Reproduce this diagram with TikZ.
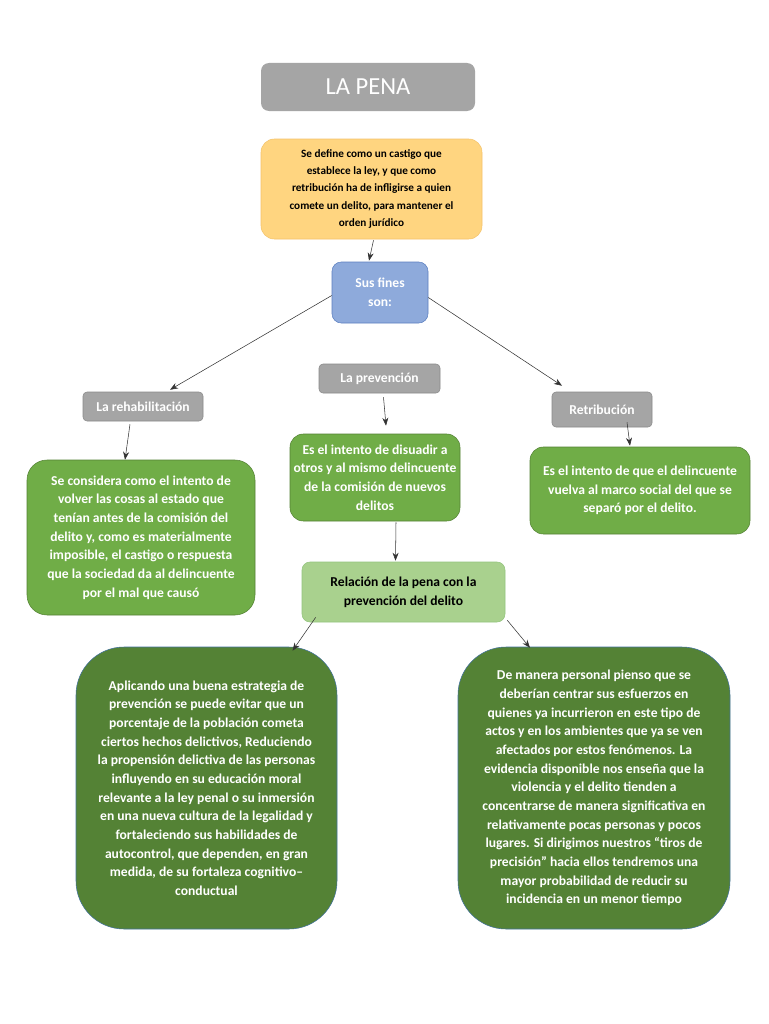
\documentclass[tikz,border=0pt]{standalone}
\usepackage{fontspec}
\setmainfont{Carlito}
\usetikzlibrary{calc,arrows.meta}
\definecolor{grisbox}{HTML}{A5A5A5}
\definecolor{grisline}{HTML}{8A8A8A}
\definecolor{naranja}{HTML}{FFD580}
\definecolor{naranjaline}{HTML}{F4C36C}
\definecolor{azul}{HTML}{8EAADB}
\definecolor{azulline}{HTML}{5B7FC0}
\definecolor{verde}{HTML}{70AD47}
\definecolor{verdeline}{HTML}{548235}
\definecolor{verdeclaro}{HTML}{A9D18E}
\definecolor{verdeclaroline}{HTML}{93C47D}
\definecolor{verdeosc}{HTML}{548235}
\definecolor{verdeoscline}{HTML}{41719C}
\begin{document}
\begin{tikzpicture}[x=0.75pt,y=-0.75pt]

    \tikzset{
      caja/.style={
        draw,
        align=center,
        inner sep=0pt,
        font=\bfseries\fontsize{10.2}{14}\selectfont,
      },
      etiqueta/.style={
        caja,
        fill=grisbox,
        draw=grisline,
        text=white,
        rounded corners=3pt,
        minimum height=21.75pt,
      },
      verdecaja/.style={
        caja,
        fill=verde,
        draw=verdeline,
        text=white,
        rounded corners=15pt,
      },
      flecha/.style={
        -{Stealth[length=6pt,width=4.5pt]},
        black!80,
      },
    }
    \fill[white] (0,0) rectangle (768,1024);

	\node[caja,fill=grisbox,draw=none,text=white,rounded corners=6pt,minimum width=160.5pt,minimum height=36pt,font=\fontsize{18.4}{20}\selectfont] (titulo) at (368,87) {LA PENA};
	\node[caja,fill=naranja,draw=naranjaline,rounded corners=10pt,minimum width=165.75pt,minimum height=75pt,font=\bfseries\fontsize{8.4}{13}\selectfont] (defin) at (371.5,189) {Se define como un castigo que\\establece la ley, y que como\\retribución ha de infligirse a quien\\comete un delito, para mantener el\\orden jurídico};
	\node[caja,fill=azul,draw=azulline,text=white,rounded corners=7pt,minimum width=72pt,minimum height=45.75pt] (fines) at (380,292.5) {Sus fines\\son:};

	\node[etiqueta,minimum width=90pt] (rehab) at (143,406.5) {La rehabilitación};
	\node[etiqueta,minimum width=90.75pt] (preven) at (379.5,378.5) {La prevención};
	\node[etiqueta,minimum width=75pt,minimum height=26.25pt] (retrib) at (602,409.5) {Retribución};

	\node[verdecaja,minimum width=171pt,minimum height=116.25pt] (rehabtxt) at (141,537.5) {Se considera como el intento de\\volver las cosas al estado que\\tenían antes de la comisión del\\delito y, como es materialmente\\imposible, el castigo o respuesta\\que la sociedad da al delincuente\\por el mal que causó};
	\node[verdecaja,rounded corners=10pt,minimum width=127.5pt,minimum height=65.25pt] (preventxt) at (375,477.5) {Es el intento de disuadir a\\otros y al mismo delincuente\\de la comisión de nuevos\\delitos};
	\node[verdecaja,rounded corners=10pt,minimum width=165pt,minimum height=65.25pt] (retribtxt) at (640,490.5) {Es el intento de que el delincuente\\vuelva al marco social del que se\\separó por el delito.};

	\node[caja,fill=verdeclaro,draw=verdeclaroline,rounded corners=6pt,minimum width=152.25pt,minimum height=45pt] (relacion) at (403.5,592) {Relación de la pena con la\\prevención del delito};

	\node[verdecaja,fill=verdeosc,draw=verdeoscline,rounded corners=36pt,minimum width=195.75pt,minimum height=211.5pt] (aplica) at (206.5,788) {Aplicando una buena estrategia de\\prevención se puede evitar que un\\porcentaje de la población cometa\\ciertos hechos delictivos, Reduciendo\\la propensión delictiva de las personas\\influyendo en su educación moral\\relevante a la ley penal o su inmersión\\en una nueva cultura de la legalidad y\\fortaleciendo sus habilidades de\\autocontrol, que dependen, en gran\\medida, de su fortaleza cognitivo–\\conductual};
	\node[verdecaja,fill=verdeosc,draw=verdeoscline,rounded corners=36pt,minimum width=204pt,minimum height=211.5pt] (personal) at (594,788) {De manera personal pienso que se\\deberían centrar sus esfuerzos en\\quienes ya incurrieron en este tipo de\\actos y en los ambientes que ya se ven\\afectados por estos fenómenos. La\\evidencia disponible nos enseña que la\\violencia y el delito tienden a\\concentrarse de manera significativa en\\relativamente pocas personas y pocos\\lugares. Si dirigimos nuestros “tiros de\\precisión” hacia ellos tendremos una\\mayor probabilidad de reducir su\\incidencia en un menor tiempo};

	\draw[flecha] ($(defin.south)+(2,1)$)--($(fines.north)+(-11,-1)$);
	\draw[flecha] ($(fines.west)+(0,3)$)--($(rehab.north)+(27,-2)$);
	\draw[flecha] ($(fines.east)+(0,5)$)--($(retrib.north)+(-40,-6)$);
	\draw[flecha] ($(rehab.south)+(-13,3)$)--($(rehabtxt.north)+(-16,0)$);
	\draw[flecha] ($(preven.south)+(4,4)$)--($(preventxt.north)+(11,-8)$);
	\draw[flecha] ($(retrib.south)+(25,-5)$)--($(retribtxt.north)+(-10,-1)$);
	\draw[flecha] ($(preventxt.south)+(21,1)$)--($(relacion.north)+(-8,-1)$);
	\draw[flecha] ($(relacion.south west)+(14,-5)$)--($(aplica.north)+(86,4)$);
	\draw[flecha] ($(relacion.south east)+(2,-2)$)--($(personal.north)+(-64,1)$);

\end{tikzpicture}
\end{document}
